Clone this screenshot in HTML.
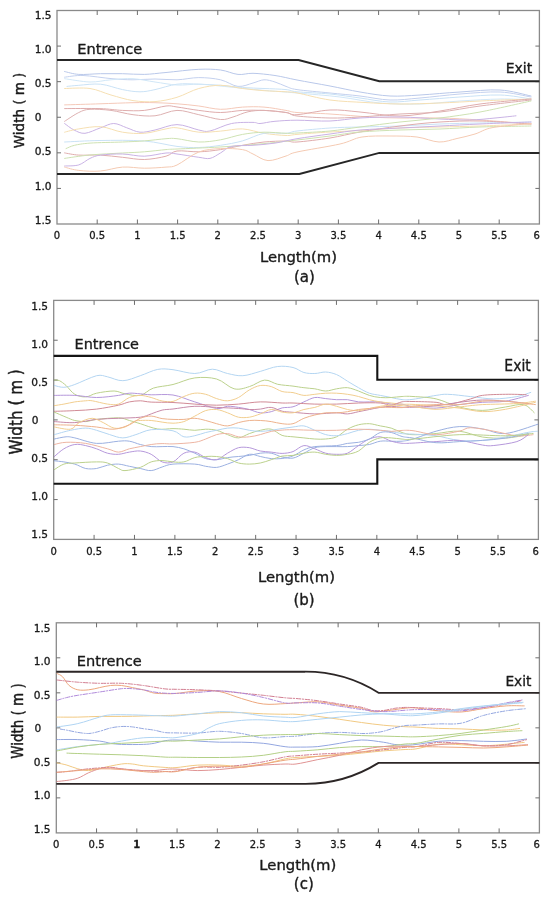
<!DOCTYPE html><html><head><meta charset="utf-8"><title>Figure</title><style>html,body{margin:0;padding:0;background:#fff;width:550px;height:903px;overflow:hidden}svg{display:block}text{stroke:#1a1a1a;stroke-linejoin:round}.tk{font-size:10px;stroke-width:.3px}.tky{font-size:10.6px}.lm{font-size:14px;stroke-width:.35px}.sb{font-size:15px;stroke-width:.35px}.wl{stroke-width:.45px}.en{font-size:14.3px;stroke-width:.35px}</style></head><body><svg width="550" height="903" viewBox="0 0 550 903" font-family='"DejaVu Sans", "Liberation Sans", sans-serif' fill="#1a1a1a"><g><rect x="57.0" y="10.5" width="482.40" height="213.50" fill="none" stroke="#8a8a8a" stroke-width="1.3"/><path d="M97.20 10.5v4.5M97.20 224.0v-4.5M137.40 10.5v4.5M137.40 224.0v-4.5M177.60 10.5v4.5M177.60 224.0v-4.5M217.80 10.5v4.5M217.80 224.0v-4.5M258.00 10.5v4.5M258.00 224.0v-4.5M298.20 10.5v4.5M298.20 224.0v-4.5M338.40 10.5v4.5M338.40 224.0v-4.5M378.60 10.5v4.5M378.60 224.0v-4.5M418.80 10.5v4.5M418.80 224.0v-4.5M459.00 10.5v4.5M459.00 224.0v-4.5M499.20 10.5v4.5M499.20 224.0v-4.5M57.0 46.08h4M539.4 46.08h-4M57.0 81.67h4M539.4 81.67h-4M57.0 117.25h4M539.4 117.25h-4M57.0 152.83h4M539.4 152.83h-4M57.0 188.42h4M539.4 188.42h-4" stroke="#6e6e6e" stroke-width="1" fill="none"/><text x="51.6" y="18.70" class="tk tky" text-anchor="end">1.5</text><text x="51.6" y="52.87" class="tk tky" text-anchor="end">1.0</text><text x="51.6" y="87.04" class="tk tky" text-anchor="end">0.5</text><text x="34.8" y="121.21" class="tk tky">0</text><text x="51.6" y="155.38" class="tk tky" text-anchor="end">0.5</text><text x="51.6" y="189.55" class="tk tky" text-anchor="end">1.0</text><text x="51.6" y="223.72" class="tk tky" text-anchor="end">1.5</text><text x="57.00" y="238.60" class="tk" text-anchor="middle">0</text><text x="97.20" y="238.60" class="tk" text-anchor="middle">0.5</text><text x="137.40" y="238.60" class="tk" text-anchor="middle">1</text><text x="177.60" y="238.60" class="tk" text-anchor="middle">1.5</text><text x="217.80" y="238.60" class="tk" text-anchor="middle">2</text><text x="258.00" y="238.60" class="tk" text-anchor="middle">2.5</text><text x="298.20" y="238.60" class="tk" text-anchor="middle">3</text><text x="338.40" y="238.60" class="tk" text-anchor="middle">3.5</text><text x="378.60" y="238.60" class="tk" text-anchor="middle">4</text><text x="418.80" y="238.60" class="tk" text-anchor="middle">4.5</text><text x="459.00" y="238.60" class="tk" text-anchor="middle">5</text><text x="499.20" y="238.60" class="tk" text-anchor="middle">5.5</text><text x="539.80" y="238.60" class="tk" text-anchor="end">6</text><text x="260.0" y="261.9" class="lm" textLength="77" lengthAdjust="spacingAndGlyphs">Length(m)</text><text x="294.0" y="282.3" class="sb">(a)</text><text transform="translate(24.0 110.4) rotate(-90)" class="wl" font-size="14.6" text-anchor="middle" textLength="75.5" lengthAdjust="spacingAndGlyphs">Width ( m )</text><text x="77.3" y="53.6" class="en" textLength="65" lengthAdjust="spacingAndGlyphs">Entrence</text><text x="505.7" y="72.7" class="en" style="font-size:14.3px" textLength="26.5" lengthAdjust="spacingAndGlyphs">Exit</text><g fill="none" stroke-width="1" stroke-linecap="round" opacity=".62"><path d="M64.6 71.5C67.0 72.0 72.8 74.0 78.8 74.4C84.8 74.8 93.3 73.8 100.6 73.7C107.9 73.6 115.2 73.6 122.5 73.7C129.8 73.8 137.1 74.6 144.3 74.4C151.6 74.2 156.9 73.3 166.0 72.5C175.1 71.7 189.7 69.7 198.8 69.3C207.9 68.9 214.1 69.2 220.6 70.0C227.1 70.8 232.6 73.9 238.0 74.4C243.4 75.0 246.8 73.1 253.0 73.3C259.2 73.5 267.7 74.4 275.0 75.5C282.3 76.6 287.8 78.2 297.0 80.0C306.2 81.8 319.5 84.0 330.0 86.0C340.5 88.0 350.0 90.3 360.0 92.0C370.0 93.7 380.0 95.5 390.0 96.0C400.0 96.5 408.3 95.7 420.0 95.0C431.7 94.3 446.7 92.8 460.0 92.0C473.3 91.2 488.2 89.3 500.0 90.0C511.8 90.7 525.8 95.0 531.0 96.0" stroke="#8ea6dc"/><path d="M64.6 77.2C67.7 76.9 75.1 75.2 83.0 75.5C90.9 75.8 103.7 78.0 112.0 78.7C120.3 79.4 125.8 79.8 133.0 79.8C140.2 79.8 147.7 79.0 155.0 79.0C162.3 79.0 169.7 80.0 177.0 79.8C184.3 79.6 191.5 77.6 198.8 77.6C206.1 77.6 214.1 78.3 220.6 79.8C227.1 81.3 232.6 85.9 238.0 86.4C243.4 86.9 248.7 84.1 253.0 83.0C257.3 81.9 260.3 80.0 264.0 79.8C267.7 79.6 271.3 80.9 275.0 82.0C278.7 83.1 282.3 85.1 286.0 86.4C289.7 87.7 289.7 88.5 297.0 89.6C304.3 90.7 319.5 91.9 330.0 93.0C340.5 94.1 350.0 94.8 360.0 96.0C370.0 97.2 380.0 99.7 390.0 100.0C400.0 100.3 408.3 99.0 420.0 98.0C431.7 97.0 446.7 95.0 460.0 94.0C473.3 93.0 488.2 91.5 500.0 92.0C511.8 92.5 525.8 96.2 531.0 97.0" stroke="#9fb4e4"/><path d="M67.0 86.4C69.0 86.2 73.2 85.7 78.8 85.3C84.4 84.9 93.3 83.5 100.6 84.2C107.9 84.9 115.9 88.3 122.5 89.6C129.1 90.9 134.6 91.8 140.0 91.8C145.4 91.8 148.8 90.9 155.0 89.6C161.2 88.3 169.7 85.1 177.0 84.2C184.3 83.3 191.5 84.0 198.8 84.2C206.1 84.4 213.3 84.8 220.6 85.3C227.9 85.8 235.3 87.0 242.5 87.5C249.7 88.0 256.8 88.2 264.0 88.5C271.2 88.8 280.5 89.0 286.0 89.6C291.5 90.1 289.7 91.1 297.0 91.8C304.3 92.5 319.5 93.0 330.0 94.0C340.5 95.0 350.0 96.7 360.0 98.0C370.0 99.3 380.0 101.7 390.0 102.0C400.0 102.3 408.3 100.8 420.0 100.0C431.7 99.2 446.7 97.8 460.0 97.0C473.3 96.2 488.2 94.7 500.0 95.0C511.8 95.3 525.8 98.3 531.0 99.0" stroke="#a9d0f0"/><path d="M64.6 78.7C68.8 79.2 82.3 81.8 90.0 82.0C97.7 82.2 103.8 80.3 111.0 79.8C118.2 79.2 125.7 78.3 133.0 78.7C140.3 79.1 147.7 81.0 155.0 82.0C162.3 83.0 169.7 84.6 177.0 85.0C184.3 85.4 191.6 84.0 198.8 84.2C206.0 84.4 209.8 85.0 220.0 86.0C230.2 87.0 247.2 88.8 260.0 90.0C272.8 91.2 283.7 91.8 297.0 93.0C310.3 94.2 326.2 95.3 340.0 97.0C353.8 98.7 366.7 101.8 380.0 103.0C393.3 104.2 406.7 104.3 420.0 104.0C433.3 103.7 446.7 101.8 460.0 101.0C473.3 100.2 488.2 99.2 500.0 99.0C511.8 98.8 525.8 99.8 531.0 100.0" stroke="#b5d8f2"/><path d="M64.6 88.5C68.8 88.5 82.3 87.4 90.0 88.5C97.7 89.6 103.8 93.0 111.0 95.0C118.2 97.0 125.7 99.5 133.0 100.6C140.3 101.7 147.7 102.1 155.0 101.6C162.3 101.0 169.7 99.5 177.0 97.3C184.3 95.1 191.5 90.5 198.8 88.5C206.1 86.5 213.3 85.3 220.6 85.3C227.9 85.3 235.3 87.6 242.5 88.5C249.7 89.4 256.8 90.2 264.0 90.7C271.2 91.2 280.5 91.4 286.0 91.8C291.5 92.2 289.7 91.5 297.0 92.9C304.3 94.3 318.7 98.4 330.0 100.0C341.3 101.6 353.3 101.8 365.0 102.5C376.7 103.2 387.5 103.9 400.0 104.0C412.5 104.1 426.7 103.5 440.0 103.0C453.3 102.5 464.8 101.7 480.0 101.0C495.2 100.3 522.5 99.3 531.0 99.0" stroke="#f0cc84"/><path d="M64.6 104.9C70.5 104.7 88.6 104.2 100.0 103.8C111.4 103.4 123.8 102.9 133.0 102.7C142.2 102.5 147.7 102.5 155.0 102.7C162.3 102.9 169.7 103.2 177.0 103.8C184.3 104.3 191.5 105.1 198.8 106.0C206.1 106.9 213.3 109.1 220.6 109.3C227.9 109.5 235.3 107.5 242.5 107.1C249.7 106.7 256.8 106.5 264.0 107.1C271.2 107.6 280.5 109.5 286.0 110.4C291.5 111.3 289.7 111.9 297.0 112.5C304.3 113.1 317.8 113.2 330.0 114.0C342.2 114.8 358.3 116.3 370.0 117.0C381.7 117.7 388.3 117.8 400.0 118.0C411.7 118.2 426.7 117.7 440.0 118.0C453.3 118.3 464.8 119.0 480.0 120.0C495.2 121.0 522.5 123.3 531.0 124.0" stroke="#eea88e"/><path d="M64.6 108.6C70.5 108.6 90.3 108.3 100.0 108.6C109.7 108.9 115.1 110.1 122.5 110.4C129.9 110.7 137.1 111.1 144.3 110.4C151.6 109.7 160.6 106.6 166.0 106.0C171.4 105.4 171.5 106.3 177.0 107.0C182.5 107.7 191.5 109.5 198.8 110.4C206.1 111.3 213.3 112.5 220.6 112.5C227.9 112.5 235.3 110.8 242.5 110.4C249.7 110.1 256.8 110.1 264.0 110.4C271.2 110.8 280.5 111.8 286.0 112.5C291.5 113.2 289.7 115.1 297.0 114.7C304.3 114.3 319.5 110.5 330.0 110.0C340.5 109.5 348.3 111.0 360.0 112.0C371.7 113.0 386.7 116.2 400.0 116.0C413.3 115.8 426.7 113.0 440.0 111.0C453.3 109.0 464.8 106.0 480.0 104.0C495.2 102.0 522.5 99.8 531.0 99.0" stroke="#cc7a7a"/><path d="M64.6 121.3C67.0 119.8 74.6 114.5 78.8 112.5C83.0 110.5 84.6 109.6 90.0 109.3C95.4 109.0 103.8 109.5 111.0 110.4C118.2 111.3 125.7 113.8 133.0 114.7C140.3 115.6 147.7 116.5 155.0 115.8C162.3 115.1 169.7 110.6 177.0 110.4C184.3 110.2 191.5 113.2 198.8 114.7C206.1 116.2 214.9 119.1 220.6 119.5C226.3 119.9 228.4 118.3 233.0 117.0C237.6 115.7 242.8 112.9 248.0 111.8C253.2 110.7 257.7 110.3 264.0 110.4C270.3 110.5 280.5 111.6 286.0 112.5C291.5 113.4 289.7 115.1 297.0 116.0C304.3 116.9 319.5 117.8 330.0 118.0C340.5 118.2 348.3 117.7 360.0 117.0C371.7 116.3 386.7 114.8 400.0 114.0C413.3 113.2 426.7 113.3 440.0 112.0C453.3 110.7 464.8 108.0 480.0 106.0C495.2 104.0 522.5 101.0 531.0 100.0" stroke="#c88080"/><path d="M64.6 123.5C66.2 124.6 70.6 128.4 74.0 130.0C77.4 131.6 80.6 133.7 85.0 133.3C89.4 132.9 95.8 129.4 100.6 127.8C105.4 126.2 109.3 123.5 113.7 123.5C118.1 123.5 122.4 126.3 126.8 127.8C131.2 129.2 135.3 131.8 140.0 132.2C144.7 132.6 148.8 131.3 155.0 130.0C161.2 128.7 169.7 124.6 177.0 124.6C184.3 124.6 193.3 128.9 198.8 130.0C204.3 131.1 204.5 132.1 210.0 131.0C215.5 129.9 224.4 124.9 231.6 123.5C238.8 122.1 248.3 122.4 253.0 122.4C257.7 122.4 256.3 123.7 260.0 123.5C263.7 123.3 268.8 121.8 275.0 121.3C281.2 120.8 287.8 120.2 297.0 120.2C306.2 120.2 319.5 121.4 330.0 121.0C340.5 120.6 348.3 118.7 360.0 118.0C371.7 117.3 386.7 116.8 400.0 117.0C413.3 117.2 428.3 118.5 440.0 119.0C451.7 119.5 460.8 120.2 470.0 120.0C479.2 119.8 487.3 118.7 495.0 118.0C502.7 117.3 512.5 116.2 516.0 115.8" stroke="#a884d4"/><path d="M64.6 132.2C67.0 131.6 72.8 129.8 78.8 128.9C84.8 128.0 93.3 126.2 100.6 126.7C107.9 127.2 115.2 131.1 122.5 132.2C129.8 133.3 137.1 133.9 144.3 133.3C151.6 132.8 160.6 129.8 166.0 128.9C171.4 128.0 171.5 127.2 177.0 127.8C182.5 128.3 191.5 131.6 198.8 132.2C206.1 132.8 213.3 131.6 220.6 131.1C227.9 130.6 235.3 128.5 242.5 128.9C249.7 129.3 256.8 132.2 264.0 133.3C271.2 134.4 280.5 135.3 286.0 135.5C291.5 135.7 289.7 135.0 297.0 134.4C304.3 133.8 317.8 132.7 330.0 132.0C342.2 131.3 358.3 130.7 370.0 130.0C381.7 129.3 388.3 128.5 400.0 128.0C411.7 127.5 426.7 127.3 440.0 127.0C453.3 126.7 464.8 126.5 480.0 126.0C495.2 125.5 522.5 124.3 531.0 124.0" stroke="#f0cc84"/><path d="M64.6 142.0C70.5 141.8 86.7 140.7 100.0 140.5C113.3 140.3 131.5 140.0 144.3 141.0C157.1 142.0 167.9 145.3 177.0 146.4C186.1 147.5 191.5 147.7 198.8 147.5C206.1 147.3 213.3 146.4 220.6 145.3C227.9 144.2 235.3 142.9 242.5 140.9C249.7 138.9 256.8 134.6 264.0 133.3C271.2 132.0 280.5 133.7 286.0 133.3C291.5 132.9 289.7 131.9 297.0 131.0C304.3 130.1 319.5 128.7 330.0 128.0C340.5 127.3 348.3 127.3 360.0 127.0C371.7 126.7 386.7 126.5 400.0 126.0C413.3 125.5 426.7 124.5 440.0 124.0C453.3 123.5 464.8 123.3 480.0 123.0C495.2 122.7 522.5 122.2 531.0 122.0" stroke="#a9d0f0"/><path d="M66.0 148.6C67.4 148.1 70.5 146.2 74.5 145.3C78.5 144.4 82.0 143.7 90.0 143.1C98.0 142.5 113.5 142.4 122.5 142.0C131.6 141.6 137.1 141.5 144.3 140.9C151.6 140.3 160.6 139.1 166.0 138.7C171.4 138.3 171.5 138.1 177.0 138.7C182.5 139.2 191.5 141.8 198.8 142.0C206.1 142.2 213.3 141.1 220.6 139.8C227.9 138.5 235.3 135.7 242.5 134.4C249.7 133.1 256.8 132.4 264.0 132.2C271.2 132.0 280.5 133.2 286.0 133.3C291.5 133.4 289.7 133.4 297.0 133.0C304.3 132.6 319.5 132.0 330.0 131.0C340.5 130.0 348.3 128.5 360.0 127.0C371.7 125.5 386.7 123.5 400.0 122.0C413.3 120.5 426.7 119.7 440.0 118.0C453.3 116.3 464.8 114.8 480.0 112.0C495.2 109.2 522.5 102.8 531.0 101.0" stroke="#b0d084"/><path d="M64.6 152.9C67.0 153.3 72.8 154.7 78.8 155.1C84.8 155.5 93.3 154.7 100.6 155.1C107.9 155.5 115.2 156.6 122.5 157.3C129.8 158.0 137.1 159.7 144.3 159.5C151.6 159.3 160.6 157.6 166.0 156.2C171.4 154.8 171.5 151.7 177.0 151.0C182.5 150.3 191.5 152.0 198.8 151.8C206.1 151.6 213.3 150.7 220.6 149.6C227.9 148.5 235.3 146.6 242.5 145.3C249.7 144.0 256.8 142.7 264.0 142.0C271.2 141.3 280.5 141.0 286.0 141.0C291.5 141.0 289.7 142.5 297.0 142.0C304.3 141.5 319.5 139.7 330.0 138.0C340.5 136.3 348.3 134.0 360.0 132.0C371.7 130.0 386.7 127.7 400.0 126.0C413.3 124.3 426.7 122.8 440.0 122.0C453.3 121.2 464.8 120.7 480.0 121.0C495.2 121.3 522.5 123.5 531.0 124.0" stroke="#cc7a7a"/><path d="M64.6 158.4C68.8 157.8 80.3 155.9 90.0 155.0C99.7 154.1 113.5 153.5 122.5 153.0C131.6 152.5 137.1 152.4 144.3 151.8C151.6 151.2 160.6 150.1 166.0 149.6C171.4 149.1 168.0 149.4 177.0 149.0C186.0 148.6 206.2 147.8 220.0 147.0C233.8 146.2 247.2 145.2 260.0 144.0C272.8 142.8 285.3 141.3 297.0 140.0C308.7 138.7 319.5 137.3 330.0 136.0C340.5 134.7 348.3 133.0 360.0 132.0C371.7 131.0 386.7 130.5 400.0 130.0C413.3 129.5 426.7 129.5 440.0 129.0C453.3 128.5 464.8 127.5 480.0 127.0C495.2 126.5 522.5 126.2 531.0 126.0" stroke="#b0d084"/><path d="M64.6 166.0C67.0 165.8 74.6 166.2 78.8 164.9C83.0 163.6 86.4 160.0 90.0 158.4C93.6 156.8 95.2 155.8 100.6 155.1C106.0 154.4 115.2 153.8 122.5 154.0C129.8 154.2 137.1 156.4 144.3 156.2C151.6 156.0 160.6 153.4 166.0 153.0C171.4 152.6 171.5 153.3 177.0 154.0C182.5 154.7 193.3 156.6 198.8 157.3C204.3 158.0 206.4 159.1 210.0 158.4C213.6 157.7 217.0 154.9 220.6 152.9C224.2 150.9 226.2 147.7 231.6 146.4C237.0 145.1 245.8 145.9 253.0 145.3C260.2 144.8 267.7 144.2 275.0 143.1C282.3 142.0 287.8 140.2 297.0 138.7C306.2 137.2 319.5 135.4 330.0 134.0C340.5 132.6 348.3 131.0 360.0 130.0C371.7 129.0 386.7 128.7 400.0 128.0C413.3 127.3 426.7 126.7 440.0 126.0C453.3 125.3 464.8 124.7 480.0 124.0C495.2 123.3 522.5 122.3 531.0 122.0" stroke="#a884d4"/><path d="M64.6 167.1C67.0 167.7 72.8 169.8 78.8 170.4C84.8 171.1 93.3 171.6 100.6 171.0C107.9 170.4 115.2 167.6 122.5 167.1C129.8 166.6 137.1 168.2 144.3 168.2C151.6 168.2 160.6 167.6 166.0 167.1C171.4 166.6 171.5 167.5 177.0 165.0C182.5 162.5 191.5 154.7 198.8 152.0C206.1 149.3 213.3 149.0 220.6 148.6C227.9 148.2 237.1 148.7 242.5 149.6C247.9 150.5 248.8 152.2 253.0 154.0C257.2 155.8 262.5 160.3 268.0 160.6C273.5 160.9 281.2 157.4 286.0 156.0C290.8 154.6 288.0 154.0 297.0 152.0C306.0 150.0 329.2 146.5 340.0 144.0C350.8 141.5 353.7 138.3 362.0 137.0C370.3 135.7 380.8 136.0 390.0 136.0C399.2 136.0 408.8 136.0 417.0 137.0C425.2 138.0 432.3 141.8 439.0 142.0C445.7 142.2 451.0 139.8 457.0 138.5C463.0 137.2 469.0 135.8 475.0 134.0C481.0 132.2 483.7 129.2 493.0 127.5C502.3 125.8 524.7 124.2 531.0 123.5" stroke="#eeaa84"/></g><path d="M57.0 59.95H298.6L379.3 81.20H539.4M57.0 174.00H299.4L379.3 152.90H539.4" stroke="#262626" stroke-width="2.0" fill="none" stroke-linejoin="miter"/></g>
<g><rect x="53.7" y="300.4" width="484.70" height="239.00" fill="none" stroke="#8a8a8a" stroke-width="1.3"/><path d="M94.09 300.4v4.5M94.09 539.4v-4.5M134.48 300.4v4.5M134.48 539.4v-4.5M174.88 300.4v4.5M174.88 539.4v-4.5M215.27 300.4v4.5M215.27 539.4v-4.5M255.66 300.4v4.5M255.66 539.4v-4.5M296.05 300.4v4.5M296.05 539.4v-4.5M336.44 300.4v4.5M336.44 539.4v-4.5M376.83 300.4v4.5M376.83 539.4v-4.5M417.23 300.4v4.5M417.23 539.4v-4.5M457.62 300.4v4.5M457.62 539.4v-4.5M498.01 300.4v4.5M498.01 539.4v-4.5M53.7 340.23h4M538.4 340.23h-4M53.7 380.07h4M538.4 380.07h-4M53.7 419.90h4M538.4 419.90h-4M53.7 459.73h4M538.4 459.73h-4M53.7 499.57h4M538.4 499.57h-4" stroke="#6e6e6e" stroke-width="1" fill="none"/><text x="48.1" y="309.50" class="tk tky" text-anchor="end">1.5</text><text x="48.1" y="347.58" class="tk tky" text-anchor="end">1.0</text><text x="48.1" y="385.66" class="tk tky" text-anchor="end">0.5</text><text x="31.7" y="423.74" class="tk tky">0</text><text x="48.1" y="461.82" class="tk tky" text-anchor="end">0.5</text><text x="48.1" y="499.90" class="tk tky" text-anchor="end">1.0</text><text x="48.1" y="537.98" class="tk tky" text-anchor="end">1.5</text><text x="53.70" y="555.00" class="tk" text-anchor="middle">0</text><text x="94.09" y="555.00" class="tk" text-anchor="middle">0.5</text><text x="134.48" y="555.00" class="tk" text-anchor="middle">1</text><text x="174.88" y="555.00" class="tk" text-anchor="middle">1.5</text><text x="215.27" y="555.00" class="tk" text-anchor="middle">2</text><text x="255.66" y="555.00" class="tk" text-anchor="middle">2.5</text><text x="296.05" y="555.00" class="tk" text-anchor="middle">3</text><text x="336.44" y="555.00" class="tk" text-anchor="middle">3.5</text><text x="376.83" y="555.00" class="tk" text-anchor="middle">4</text><text x="417.23" y="555.00" class="tk" text-anchor="middle">4.5</text><text x="457.62" y="555.00" class="tk" text-anchor="middle">5</text><text x="498.01" y="555.00" class="tk" text-anchor="middle">5.5</text><text x="538.80" y="555.00" class="tk" text-anchor="end">6</text><text x="258.0" y="581.5" class="lm" textLength="77" lengthAdjust="spacingAndGlyphs">Length(m)</text><text x="293.4" y="605.0" class="sb">(b)</text><text transform="translate(22.2 411.9) rotate(-90)" class="wl" font-size="16.8" text-anchor="middle" textLength="85.4" lengthAdjust="spacingAndGlyphs">Width ( m )</text><text x="74.5" y="348.5" class="en" textLength="64.5" lengthAdjust="spacingAndGlyphs">Entrence</text><text x="504.3" y="371.0" class="en" style="font-size:15.5px" textLength="26.5" lengthAdjust="spacingAndGlyphs">Exit</text><g fill="none" stroke-width="1" stroke-linecap="round" opacity=".78"><path d="M54.4 385.5C56.0 385.8 60.5 387.5 63.9 387.3C67.3 387.1 69.4 386.4 74.8 384.5C80.3 382.5 91.2 377.0 96.6 375.7C102.1 374.5 103.2 376.0 107.5 376.8C111.9 377.7 117.4 380.9 122.8 380.7C128.3 380.6 134.5 377.6 140.3 375.7C146.1 373.8 152.3 370.4 157.7 369.4C163.2 368.4 166.8 369.0 173.0 369.7C179.2 370.4 188.3 373.6 194.8 373.5C201.4 373.5 206.8 369.2 212.3 369.2C217.7 369.2 222.5 372.5 227.5 373.5C232.6 374.6 237.4 376.1 242.8 375.7C248.3 375.4 254.5 372.9 260.3 371.4C266.1 369.8 272.3 367.1 277.7 366.5C283.2 365.8 288.6 366.5 293.0 367.5C297.4 368.5 300.3 371.5 303.9 372.5C307.5 373.5 311.2 373.6 314.8 373.5C318.5 373.5 322.1 371.8 325.7 372.0C329.4 372.2 333.0 373.1 336.6 374.6C340.3 376.2 343.9 379.0 347.5 381.2C351.2 383.4 354.8 385.7 358.5 387.7C362.1 389.7 365.7 391.9 369.4 393.2C373.0 394.5 376.6 394.6 380.3 395.4C383.9 396.1 387.6 396.8 391.2 397.5C394.8 398.3 398.5 399.3 402.1 399.6C405.7 399.9 407.3 400.0 413.0 399.3C418.7 398.6 430.3 396.2 436.1 395.4C441.9 394.6 441.9 394.1 447.6 394.3C453.4 394.4 463.0 395.8 470.7 396.6C478.4 397.3 486.1 398.9 493.8 398.9C501.5 398.9 510.7 397.6 516.9 396.6C523.1 395.5 528.4 393.1 530.8 392.4" stroke="#9fcaee"/><path d="M54.4 380.1C55.3 380.2 57.6 379.8 59.5 380.7C61.5 381.7 63.5 383.3 66.1 385.5C68.6 387.8 71.5 392.4 74.8 394.3C78.1 396.2 82.1 397.1 85.7 396.9C89.4 396.7 91.9 394.2 96.6 393.2C101.4 392.2 109.4 390.9 114.1 391.0C118.8 391.1 120.6 393.1 125.0 393.8C129.4 394.6 135.6 396.3 140.3 395.4C145.0 394.4 147.9 389.9 153.4 388.1C158.8 386.3 166.1 386.2 173.0 384.5C179.9 382.8 187.5 378.8 194.8 377.9C202.1 377.0 210.1 377.2 216.6 379.0C223.2 380.8 228.6 387.5 234.1 388.8C239.6 390.1 244.3 388.1 249.4 386.6C254.5 385.2 259.9 380.5 264.6 380.1C269.4 379.7 273.0 383.3 277.7 384.3C282.5 385.3 288.6 385.5 293.0 386.1C297.4 386.7 300.3 387.3 303.9 387.7C307.5 388.2 311.2 388.3 314.8 388.8C318.5 389.4 322.1 391.0 325.7 391.0C329.4 391.0 333.0 389.4 336.6 388.8C340.3 388.3 343.9 387.4 347.5 387.7C351.2 388.1 354.8 389.7 358.5 391.0C362.1 392.3 365.7 394.3 369.4 395.4C373.0 396.5 376.6 397.2 380.3 397.5C383.9 397.9 387.6 397.7 391.2 397.5C394.8 397.4 398.5 396.6 402.1 396.5C405.7 396.3 407.3 396.1 413.0 396.5C418.7 396.9 428.4 397.1 436.1 398.9C443.8 400.6 451.5 405.0 459.2 407.0C466.9 408.9 474.6 410.4 482.3 410.4C490.0 410.4 498.4 407.9 505.4 407.0C512.3 406.0 519.0 403.7 523.8 404.6C528.6 405.6 532.5 411.4 534.2 412.7" stroke="#a8c46c"/><path d="M54.4 395.4C57.8 395.4 67.8 395.0 74.8 395.4C81.9 395.7 89.4 397.5 96.6 397.5C103.9 397.5 113.0 396.1 118.5 395.4C123.9 394.6 125.7 393.4 129.4 393.2C133.0 392.9 136.6 393.6 140.3 393.8C143.9 394.1 145.7 394.6 151.2 394.8C156.6 395.0 165.7 393.9 173.0 395.0C180.3 396.2 187.5 399.7 194.8 401.9C202.1 404.1 211.2 407.7 216.6 408.5C222.1 409.2 223.9 406.5 227.5 406.3C231.2 406.1 234.8 406.8 238.5 407.4C242.1 407.9 245.7 408.6 249.4 409.5C253.0 410.5 256.6 412.5 260.3 412.8C263.9 413.2 267.6 412.5 271.2 411.7C274.8 410.9 278.5 408.7 282.1 407.9C285.7 407.1 289.4 407.8 293.0 406.8C296.6 405.8 300.3 403.5 303.9 401.9C307.5 400.4 311.2 398.1 314.8 397.5C318.5 397.0 322.1 398.3 325.7 398.6C329.4 399.0 333.0 399.5 336.6 399.7C340.3 399.9 343.9 399.4 347.5 399.7C351.2 400.1 354.8 401.5 358.5 401.9C362.1 402.3 365.7 401.9 369.4 401.9C373.0 401.9 376.6 401.5 380.3 401.9C383.9 402.3 387.6 403.7 391.2 404.1C394.8 404.5 398.5 403.8 402.1 404.2C405.7 404.7 407.3 406.1 413.0 406.7C418.7 407.4 428.4 408.4 436.1 408.1C443.8 407.8 451.5 405.6 459.2 404.6C466.9 403.7 474.6 402.9 482.3 402.3C490.0 401.8 497.7 402.3 505.4 401.2C513.1 400.0 524.6 396.4 528.4 395.4" stroke="#a07ad0"/><path d="M54.4 405.6C56.0 405.4 60.5 404.7 63.9 404.1C67.3 403.5 71.2 402.5 74.8 401.9C78.5 401.4 82.8 401.0 85.7 400.8C88.6 400.6 88.6 400.3 92.3 400.8C95.9 401.4 103.2 403.5 107.5 404.1C111.9 404.6 114.8 405.2 118.5 404.1C122.1 403.0 125.7 399.0 129.4 397.5C133.0 396.1 136.6 395.4 140.3 395.4C143.9 395.4 147.6 396.6 151.2 397.5C154.8 398.5 158.5 400.4 162.1 401.0C165.7 401.6 169.4 402.1 173.0 401.4C176.6 400.6 180.3 397.8 183.9 396.5C187.5 395.1 191.2 393.5 194.8 393.2C198.5 392.8 202.1 393.4 205.7 394.3C209.4 395.2 213.0 397.5 216.6 398.6C220.3 399.7 223.9 401.0 227.5 400.8C231.2 400.6 234.8 399.4 238.5 397.5C242.1 395.7 245.7 391.9 249.4 389.9C253.0 387.9 256.6 386.1 260.3 385.5C263.9 385.0 267.6 385.6 271.2 386.6C274.8 387.6 278.5 390.5 282.1 391.5C285.7 392.5 289.4 392.0 293.0 392.6C296.6 393.3 300.3 395.1 303.9 395.4C307.5 395.6 311.2 394.6 314.8 394.3C318.5 393.9 322.1 393.4 325.7 393.2C329.4 393.0 333.0 393.0 336.6 393.2C340.3 393.4 343.9 393.7 347.5 394.3C351.2 394.8 354.8 395.5 358.5 396.5C362.1 397.4 365.7 398.8 369.4 399.7C373.0 400.6 376.6 401.4 380.3 401.9C383.9 402.5 387.6 402.6 391.2 403.0C394.8 403.4 398.5 404.0 402.1 404.2C405.7 404.4 407.3 404.1 413.0 404.4C418.7 404.6 428.4 405.2 436.1 405.8C443.8 406.4 451.5 407.1 459.2 408.1C466.9 409.1 474.6 411.4 482.3 411.6C490.0 411.8 496.5 410.8 505.4 409.3C514.2 407.7 530.4 403.5 535.4 402.3" stroke="#eec070"/><path d="M54.4 411.3C57.8 411.2 67.8 411.0 74.8 410.6C81.9 410.3 89.4 410.0 96.6 409.1C103.9 408.2 113.0 406.4 118.5 405.2C123.9 404.0 125.7 402.6 129.4 401.9C133.0 401.2 136.6 400.8 140.3 400.8C143.9 400.9 145.7 401.8 151.2 402.1C156.6 402.4 165.7 402.1 173.0 402.5C180.3 402.8 187.5 403.6 194.8 404.1C202.1 404.5 209.4 405.2 216.6 405.2C223.9 405.2 231.2 404.6 238.5 404.1C245.7 403.5 253.0 402.1 260.3 401.9C267.6 401.7 276.6 402.8 282.1 403.0C287.6 403.2 287.5 402.8 293.0 403.0C298.5 403.2 307.5 403.9 314.8 404.1C322.1 404.3 329.4 404.3 336.6 404.1C343.9 403.9 351.2 403.2 358.5 403.0C365.7 402.8 374.8 402.6 380.3 403.0C385.7 403.4 387.6 405.4 391.2 405.2C394.8 405.0 398.5 402.4 402.1 401.8C405.7 401.2 407.3 401.5 413.0 401.5C418.7 401.6 430.3 401.8 436.1 402.3C441.9 402.8 441.9 405.2 447.6 404.6C453.4 404.1 465.0 400.4 470.7 398.9C476.5 397.3 476.5 396.2 482.3 395.4C488.0 394.6 498.0 394.4 505.4 394.3C512.7 394.1 522.7 394.6 526.1 394.7" stroke="#c46a78"/><path d="M54.4 412.2C56.3 413.0 62.7 415.8 66.1 417.2C69.5 418.6 71.5 419.7 74.8 420.5C78.1 421.2 82.1 421.7 85.7 421.6C89.4 421.4 91.2 420.0 96.6 419.4C102.1 418.8 113.0 417.7 118.5 417.8C123.9 418.0 125.7 419.5 129.4 420.5C133.0 421.4 135.6 422.3 140.3 423.7C145.0 425.2 152.3 428.2 157.7 429.0C163.2 429.8 168.6 428.6 173.0 428.6C177.4 428.7 180.3 428.9 183.9 429.2C187.5 429.5 191.2 430.3 194.8 430.3C198.5 430.3 202.1 429.2 205.7 429.2C209.4 429.2 213.0 429.4 216.6 430.3C220.3 431.2 223.9 433.4 227.5 434.6C231.2 435.9 234.8 438.1 238.5 437.9C242.1 437.7 245.7 434.8 249.4 433.6C253.0 432.3 256.6 431.0 260.3 430.3C263.9 429.6 267.6 428.3 271.2 429.2C274.8 430.0 278.5 434.1 282.1 435.4C285.7 436.6 289.4 436.4 293.0 436.8C296.6 437.2 300.3 437.6 303.9 437.9C307.5 438.3 311.2 438.8 314.8 439.0C318.5 439.2 322.1 439.4 325.7 439.0C329.4 438.6 333.0 438.5 336.6 436.8C340.3 435.2 343.9 431.2 347.5 429.2C351.2 427.2 354.8 425.7 358.5 424.8C362.1 423.9 365.7 423.6 369.4 423.7C373.0 423.9 376.6 425.2 380.3 425.9C383.9 426.6 387.6 427.0 391.2 428.1C394.8 429.2 398.5 431.4 402.1 432.5C405.7 433.6 407.3 434.6 413.0 434.7C418.7 434.9 428.4 434.1 436.1 433.5C443.8 432.9 451.5 430.6 459.2 431.2C466.9 431.8 474.6 435.8 482.3 437.0C490.0 438.1 497.7 438.5 505.4 438.1C513.1 437.7 524.6 435.2 528.4 434.7" stroke="#a8c46c"/><path d="M54.4 421.6C57.8 421.7 67.8 423.0 74.8 422.6C81.9 422.3 89.4 420.1 96.6 419.4C103.9 418.6 111.2 418.6 118.5 418.3C125.7 417.9 134.8 417.9 140.3 417.2C145.7 416.5 147.6 415.1 151.2 413.9C154.8 412.7 158.5 410.9 162.1 410.1C165.7 409.3 167.5 409.6 173.0 409.0C178.5 408.4 187.5 406.5 194.8 406.3C202.1 406.0 209.4 407.0 216.6 407.4C223.9 407.7 233.0 408.1 238.5 408.5C243.9 408.8 245.7 409.4 249.4 409.5C253.0 409.7 256.6 409.5 260.3 409.1C263.9 408.7 267.6 407.0 271.2 407.4C274.8 407.7 278.5 410.4 282.1 411.2C285.7 412.0 287.5 411.8 293.0 412.3C298.5 412.7 307.5 413.8 314.8 413.9C322.1 414.0 331.2 412.8 336.6 412.8C342.1 412.8 343.9 414.1 347.5 413.9C351.2 413.7 354.8 412.5 358.5 411.7C362.1 411.0 365.7 410.3 369.4 409.5C373.0 408.8 376.6 407.9 380.3 407.4C383.9 406.8 387.6 406.3 391.2 406.3C394.8 406.3 398.5 407.2 402.1 407.3C405.7 407.4 407.3 407.4 413.0 407.2C418.7 406.9 428.4 406.6 436.1 405.8C443.8 405.0 451.5 403.3 459.2 402.3C466.9 401.4 474.6 400.2 482.3 400.0C490.0 399.8 497.7 400.6 505.4 401.2C513.1 401.8 524.6 403.1 528.4 403.5" stroke="#b86a90"/><path d="M54.4 427.0C57.1 427.4 66.3 429.9 70.5 429.2C74.6 428.5 75.5 424.5 79.2 422.6C82.8 420.8 88.3 418.3 92.3 418.3C96.3 418.3 99.5 421.0 103.2 422.6C106.8 424.3 110.5 427.4 114.1 428.1C117.7 428.8 121.7 428.1 125.0 427.0C128.3 425.9 131.2 422.6 133.7 421.6C136.3 420.5 137.4 420.6 140.3 420.5C143.2 420.3 147.6 420.2 151.2 420.5C154.8 420.7 158.5 421.6 162.1 422.1C165.7 422.6 169.4 423.3 173.0 423.2C176.6 423.1 180.3 422.7 183.9 421.6C187.5 420.4 191.2 417.9 194.8 416.1C198.5 414.3 202.1 411.7 205.7 410.6C209.4 409.5 213.0 409.2 216.6 409.5C220.3 409.9 223.9 411.5 227.5 412.8C231.2 414.1 234.8 416.5 238.5 417.2C242.1 417.9 245.7 417.7 249.4 417.2C253.0 416.6 256.6 415.2 260.3 413.9C263.9 412.6 267.6 409.9 271.2 409.5C274.8 409.2 278.5 411.5 282.1 412.1C285.7 412.6 289.4 413.2 293.0 412.8C296.6 412.4 300.3 410.5 303.9 409.5C307.5 408.6 311.2 408.3 314.8 407.4C318.5 406.5 322.1 404.3 325.7 404.1C329.4 403.9 333.0 405.4 336.6 406.3C340.3 407.2 343.9 408.8 347.5 409.5C351.2 410.3 354.8 410.8 358.5 410.6C362.1 410.5 365.7 409.2 369.4 408.5C373.0 407.7 376.6 406.8 380.3 406.3C383.9 405.7 387.6 405.3 391.2 405.2C394.8 405.1 398.5 405.4 402.1 405.7C405.7 405.9 407.3 406.0 413.0 406.6C418.7 407.2 428.4 409.2 436.1 409.3C443.8 409.3 451.5 407.7 459.2 407.0C466.9 406.2 472.6 405.2 482.3 404.6C491.9 404.1 508.1 404.1 516.9 403.5C525.8 402.9 532.3 401.6 535.4 401.2" stroke="#eec070"/><path d="M54.4 424.8C57.8 424.9 67.8 424.9 74.8 425.3C81.9 425.6 90.1 426.4 96.6 427.0C103.2 427.7 108.6 429.6 114.1 429.2C119.6 428.8 125.0 426.6 129.4 424.8C133.7 423.0 136.6 419.7 140.3 418.3C143.9 416.8 147.6 416.0 151.2 416.1C154.8 416.2 158.5 418.1 162.1 418.6C165.7 419.2 169.4 419.2 173.0 419.4C176.6 419.5 180.3 419.6 183.9 419.4C187.5 419.2 191.2 418.1 194.8 418.3C198.5 418.5 202.1 419.6 205.7 420.5C209.4 421.4 213.0 422.8 216.6 423.7C220.3 424.6 223.9 426.1 227.5 425.9C231.2 425.7 234.8 423.6 238.5 422.6C242.1 421.7 245.7 420.8 249.4 420.5C253.0 420.1 256.6 420.3 260.3 420.5C263.9 420.6 267.6 421.0 271.2 421.6C274.8 422.1 278.5 423.4 282.1 423.7C285.7 424.1 289.4 424.6 293.0 423.7C296.6 422.8 300.3 419.7 303.9 418.3C307.5 416.8 311.2 415.9 314.8 415.0C318.5 414.1 322.1 413.2 325.7 412.8C329.4 412.5 333.0 413.0 336.6 412.8C340.3 412.6 343.9 412.3 347.5 411.7C351.2 411.2 354.8 410.1 358.5 409.5C362.1 409.0 365.7 408.8 369.4 408.5C373.0 408.1 376.6 407.5 380.3 407.4C383.9 407.2 387.6 407.3 391.2 407.4C394.8 407.4 398.5 407.9 402.1 407.6C405.7 407.4 407.3 406.5 413.0 406.0C418.7 405.5 428.4 404.9 436.1 404.6C443.8 404.4 451.5 405.2 459.2 404.6C466.9 404.1 474.6 401.8 482.3 401.2C490.0 400.6 496.5 400.6 505.4 401.2C514.2 401.8 530.4 404.1 535.4 404.6" stroke="#e89c6c"/><path d="M54.4 434.6C57.1 433.9 65.2 431.4 70.5 430.3C75.7 429.2 81.4 428.1 85.7 428.1C90.1 428.1 92.6 429.2 96.6 430.3C100.6 431.4 105.4 433.4 109.7 434.6C114.1 435.9 118.5 437.9 122.8 437.9C127.2 437.9 131.2 436.0 135.9 434.6C140.6 433.3 145.0 430.4 151.2 429.7C157.4 429.1 167.5 429.6 173.0 430.8C178.5 432.0 180.3 436.0 183.9 436.8C187.5 437.6 191.2 436.5 194.8 435.7C198.5 435.0 202.1 433.4 205.7 432.5C209.4 431.6 213.0 431.0 216.6 430.3C220.3 429.6 223.9 428.5 227.5 428.1C231.2 427.7 234.8 427.7 238.5 428.1C242.1 428.5 245.7 429.7 249.4 430.3C253.0 430.8 256.6 431.4 260.3 431.4C263.9 431.4 267.6 430.8 271.2 430.3C274.8 429.8 278.5 429.0 282.1 428.5C285.7 427.9 289.4 427.4 293.0 427.0C296.6 426.6 300.3 425.4 303.9 425.9C307.5 426.5 311.2 428.8 314.8 430.3C318.5 431.7 322.1 433.7 325.7 434.6C329.4 435.6 333.0 435.9 336.6 435.7C340.3 435.6 343.9 434.5 347.5 433.6C351.2 432.6 354.8 431.0 358.5 430.3C362.1 429.6 365.7 429.2 369.4 429.2C373.0 429.2 376.6 429.9 380.3 430.3C383.9 430.6 387.6 430.8 391.2 431.4C394.8 431.9 398.5 433.3 402.1 433.7C405.7 434.2 407.3 433.8 413.0 434.1C418.7 434.5 428.4 434.8 436.1 435.8C443.8 436.9 451.5 439.7 459.2 440.4C466.9 441.2 474.6 441.0 482.3 440.4C490.0 439.9 497.7 438.3 505.4 437.0C513.1 435.6 523.1 433.3 528.4 432.3C533.8 431.4 536.1 431.4 537.7 431.2" stroke="#9fcaee"/><path d="M54.4 439.0C56.3 438.6 62.7 437.0 66.1 436.8C69.5 436.6 69.7 436.8 74.8 437.9C79.9 439.0 89.4 442.8 96.6 443.4C103.9 443.9 113.0 441.6 118.5 441.2C123.9 440.8 125.7 440.6 129.4 441.2C133.0 441.7 136.6 443.6 140.3 444.5C143.9 445.4 147.6 446.3 151.2 446.6C154.8 447.0 158.5 446.6 162.1 446.6C165.7 446.6 169.4 446.3 173.0 446.6C176.6 447.0 180.3 447.7 183.9 448.8C187.5 449.9 191.2 451.6 194.8 453.2C198.5 454.8 202.1 457.6 205.7 458.6C209.4 459.7 213.0 459.9 216.6 459.7C220.3 459.6 223.9 458.1 227.5 457.6C231.2 457.0 234.8 456.8 238.5 456.5C242.1 456.1 245.7 455.9 249.4 455.4C253.0 454.8 256.6 453.6 260.3 453.2C263.9 452.8 267.6 452.6 271.2 453.2C274.8 453.8 278.5 456.2 282.1 457.0C285.7 457.8 289.4 458.7 293.0 458.1C296.6 457.5 300.3 454.9 303.9 453.2C307.5 451.5 311.2 448.8 314.8 447.7C318.5 446.6 322.1 446.8 325.7 446.6C329.4 446.5 333.0 446.6 336.6 446.6C340.3 446.6 343.9 446.8 347.5 446.6C351.2 446.5 354.8 445.9 358.5 445.6C362.1 445.2 365.7 445.2 369.4 444.5C373.0 443.7 376.6 441.7 380.3 441.2C383.9 440.6 387.6 441.2 391.2 441.2C394.8 441.2 398.5 441.6 402.1 441.2C405.7 440.8 407.3 440.7 413.0 439.0C418.7 437.4 428.4 433.3 436.1 431.2C443.8 429.1 451.5 427.0 459.2 426.6C466.9 426.2 474.6 427.7 482.3 428.9C490.0 430.0 496.1 434.3 505.4 433.5C514.6 432.7 532.3 425.8 537.7 424.3" stroke="#7f9ad8"/><path d="M54.4 444.5C56.3 444.1 60.9 442.5 66.1 442.3C71.3 442.1 78.8 442.3 85.7 443.4C92.6 444.5 102.1 447.4 107.5 448.8C113.0 450.3 114.8 452.1 118.5 452.1C122.1 452.1 125.7 449.7 129.4 448.8C133.0 447.9 136.6 447.4 140.3 446.6C143.9 445.9 147.6 445.0 151.2 444.5C154.8 443.9 158.5 443.6 162.1 443.6C165.7 443.5 167.5 444.1 173.0 443.9C178.5 443.7 189.4 443.1 194.8 442.3C200.3 441.5 202.1 440.3 205.7 439.0C209.4 437.7 213.0 435.6 216.6 434.6C220.3 433.7 223.9 433.2 227.5 433.6C231.2 433.9 234.8 436.3 238.5 436.8C242.1 437.4 245.7 437.2 249.4 436.8C253.0 436.5 256.6 435.6 260.3 434.6C263.9 433.7 267.6 432.1 271.2 431.4C274.8 430.6 278.5 430.4 282.1 430.1C285.7 429.8 287.5 429.7 293.0 429.7C298.5 429.8 307.5 430.2 314.8 430.3C322.1 430.4 329.4 430.5 336.6 430.3C343.9 430.1 351.2 429.2 358.5 429.2C365.7 429.2 374.8 429.9 380.3 430.3C385.7 430.6 387.6 431.3 391.2 431.4C394.8 431.4 398.5 430.5 402.1 430.4C405.7 430.3 407.3 430.0 413.0 430.7C418.7 431.4 428.4 434.6 436.1 434.7C443.8 434.7 453.4 432.3 459.2 431.2C465.0 430.0 465.0 427.7 470.7 427.7C476.5 427.7 486.1 429.8 493.8 431.2C501.5 432.5 510.4 435.2 516.9 435.8C523.4 436.4 530.4 434.9 533.1 434.7" stroke="#e8a088"/><path d="M54.4 456.5C56.0 455.2 60.5 450.8 63.9 448.8C67.3 446.8 71.2 445.0 74.8 444.5C78.5 443.9 82.1 444.8 85.7 445.6C89.4 446.3 93.0 447.6 96.6 448.8C100.3 450.1 103.9 452.3 107.5 453.2C111.2 454.1 114.8 454.5 118.5 454.3C122.1 454.1 125.7 452.6 129.4 452.1C133.0 451.6 136.6 450.6 140.3 451.0C143.9 451.4 147.6 452.5 151.2 454.3C154.8 456.1 158.5 460.6 162.1 461.9C165.7 463.2 169.4 463.4 173.0 461.9C176.6 460.5 180.3 454.8 183.9 453.2C187.5 451.6 191.2 451.4 194.8 452.1C198.5 452.8 202.1 456.3 205.7 457.6C209.4 458.8 213.0 460.5 216.6 459.7C220.3 459.0 223.9 455.2 227.5 453.2C231.2 451.2 234.8 448.6 238.5 447.7C242.1 446.8 245.7 447.2 249.4 447.7C253.0 448.3 256.6 450.3 260.3 451.0C263.9 451.7 267.6 451.7 271.2 452.1C274.8 452.5 278.5 453.5 282.1 453.4C285.7 453.3 289.4 452.9 293.0 451.6C296.6 450.2 300.3 446.0 303.9 445.6C307.5 445.1 311.2 447.6 314.8 448.8C318.5 450.1 322.1 452.3 325.7 453.2C329.4 454.1 333.0 454.3 336.6 454.3C340.3 454.3 343.9 454.6 347.5 453.2C351.2 451.7 354.8 447.9 358.5 445.6C362.1 443.2 365.7 440.5 369.4 439.0C373.0 437.6 376.6 436.5 380.3 436.8C383.9 437.2 387.6 440.1 391.2 441.2C394.8 442.3 398.5 443.0 402.1 443.3C405.7 443.6 407.3 443.3 413.0 443.1C418.7 442.8 428.4 442.0 436.1 441.6C443.8 441.1 451.5 439.9 459.2 440.4C466.9 441.0 476.5 444.2 482.3 445.0C488.0 445.9 488.0 446.1 493.8 445.5C499.6 444.9 511.1 443.4 516.9 441.6C522.7 439.8 526.5 435.8 528.4 434.7" stroke="#a07ad0"/><path d="M54.4 460.8C56.0 461.0 60.5 461.4 63.9 461.9C67.3 462.5 71.2 463.0 74.8 464.1C78.5 465.2 82.1 467.7 85.7 468.5C89.4 469.2 93.0 469.0 96.6 468.5C100.3 467.9 103.9 465.9 107.5 465.2C111.2 464.5 114.8 463.9 118.5 464.1C122.1 464.3 125.7 465.6 129.4 466.3C133.0 467.0 136.6 467.7 140.3 468.5C143.9 469.2 147.6 470.9 151.2 470.6C154.8 470.4 158.5 468.1 162.1 467.0C165.7 465.9 167.5 464.6 173.0 464.1C178.5 463.6 189.4 463.7 194.8 464.1C200.3 464.5 202.1 465.7 205.7 466.3C209.4 466.8 213.0 467.7 216.6 467.4C220.3 467.0 223.9 465.4 227.5 464.1C231.2 462.8 234.8 461.4 238.5 459.7C242.1 458.1 245.7 454.8 249.4 454.3C253.0 453.7 256.6 455.7 260.3 456.5C263.9 457.2 267.6 458.3 271.2 458.6C274.8 459.0 278.5 458.9 282.1 458.5C285.7 458.0 289.4 457.3 293.0 455.9C296.6 454.5 300.3 451.5 303.9 449.9C307.5 448.4 309.4 447.4 314.8 446.6C320.3 445.9 331.2 446.1 336.6 445.6C342.1 445.0 343.9 443.9 347.5 443.4C351.2 442.8 354.8 443.0 358.5 442.3C362.1 441.6 365.7 440.6 369.4 439.0C373.0 437.4 376.6 433.6 380.3 432.5C383.9 431.4 387.6 431.8 391.2 432.5C394.8 433.1 398.5 435.6 402.1 436.5C405.7 437.5 407.3 437.0 413.0 438.1C418.7 439.1 428.4 442.2 436.1 442.7C443.8 443.3 451.5 442.0 459.2 441.6C466.9 441.2 474.6 441.0 482.3 440.4C490.0 439.9 497.7 439.3 505.4 438.1C513.1 437.0 524.6 434.3 528.4 433.5" stroke="#7f9ad8"/><path d="M54.4 469.6C56.0 468.6 60.5 465.2 63.9 464.1C67.3 463.0 69.4 463.4 74.8 463.0C80.3 462.6 91.2 461.9 96.6 461.9C102.1 461.9 103.9 461.9 107.5 463.0C111.2 464.1 115.6 467.2 118.5 468.5C121.4 469.7 121.4 470.8 125.0 470.6C128.6 470.5 135.9 468.8 140.3 467.4C144.6 465.9 147.6 463.1 151.2 461.9C154.8 460.8 158.5 460.5 162.1 460.5C165.7 460.5 169.4 461.7 173.0 461.9C176.6 462.2 180.3 462.6 183.9 461.9C187.5 461.2 191.2 458.5 194.8 457.6C198.5 456.6 202.1 456.6 205.7 456.5C209.4 456.3 213.0 456.1 216.6 456.5C220.3 456.8 223.9 457.6 227.5 458.6C231.2 459.7 234.8 462.1 238.5 463.0C242.1 463.9 245.7 464.1 249.4 464.1C253.0 464.1 256.6 463.7 260.3 463.0C263.9 462.3 267.6 460.9 271.2 459.7C274.8 458.6 278.5 456.8 282.1 456.1C285.7 455.4 289.4 455.9 293.0 455.4C296.6 454.9 300.3 453.7 303.9 453.2C307.5 452.6 311.2 451.9 314.8 452.1C318.5 452.3 322.1 453.7 325.7 454.3C329.4 454.8 333.0 455.4 336.6 455.4C340.3 455.4 343.9 455.0 347.5 454.3C351.2 453.6 354.8 453.0 358.5 451.0C362.1 449.0 365.7 444.5 369.4 442.3C373.0 440.1 376.6 438.6 380.3 437.9C383.9 437.2 387.6 437.7 391.2 437.9C394.8 438.1 398.5 438.8 402.1 439.1C405.7 439.3 403.5 439.9 413.0 439.1C422.5 438.4 443.8 435.2 459.2 434.7C474.6 434.1 493.0 436.0 505.4 435.8C517.7 435.6 528.4 433.9 533.1 433.5" stroke="#a8c46c"/></g><path d="M53.7 355.90H377.3V379.80H538.4M53.7 483.70H377.3V459.40H538.4" stroke="#141414" stroke-width="2.1" fill="none" stroke-linejoin="miter"/></g>
<g><rect x="56.3" y="622.8" width="483.10" height="210.10" fill="none" stroke="#8a8a8a" stroke-width="1.3"/><path d="M96.56 622.8v4.5M96.56 832.9v-4.5M136.82 622.8v4.5M136.82 832.9v-4.5M177.07 622.8v4.5M177.07 832.9v-4.5M217.33 622.8v4.5M217.33 832.9v-4.5M257.59 622.8v4.5M257.59 832.9v-4.5M297.85 622.8v4.5M297.85 832.9v-4.5M338.11 622.8v4.5M338.11 832.9v-4.5M378.37 622.8v4.5M378.37 832.9v-4.5M418.62 622.8v4.5M418.62 832.9v-4.5M458.88 622.8v4.5M458.88 832.9v-4.5M499.14 622.8v4.5M499.14 832.9v-4.5M56.3 657.82h4M539.4 657.82h-4M56.3 692.83h4M539.4 692.83h-4M56.3 727.85h4M539.4 727.85h-4M56.3 762.87h4M539.4 762.87h-4M56.3 797.88h4M539.4 797.88h-4" stroke="#6e6e6e" stroke-width="1" fill="none"/><text x="50.6" y="631.60" class="tk tky" text-anchor="end">1.5</text><text x="50.6" y="665.10" class="tk tky" text-anchor="end">1.0</text><text x="50.6" y="698.60" class="tk tky" text-anchor="end">0.5</text><text x="34.4" y="732.10" class="tk tky">0</text><text x="50.6" y="765.60" class="tk tky" text-anchor="end">0.5</text><text x="50.6" y="799.10" class="tk tky" text-anchor="end">1.0</text><text x="50.6" y="832.60" class="tk tky" text-anchor="end">1.5</text><text x="56.30" y="847.50" class="tk" text-anchor="middle">0</text><text x="96.56" y="847.50" class="tk" text-anchor="middle">0.5</text><text x="136.82" y="847.50" class="tk" text-anchor="middle" font-weight="bold">1</text><text x="177.07" y="847.50" class="tk" text-anchor="middle">1.5</text><text x="217.33" y="847.50" class="tk" text-anchor="middle">2</text><text x="257.59" y="847.50" class="tk" text-anchor="middle">2.5</text><text x="297.85" y="847.50" class="tk" text-anchor="middle">3</text><text x="338.11" y="847.50" class="tk" text-anchor="middle">3.5</text><text x="378.37" y="847.50" class="tk" text-anchor="middle">4</text><text x="418.62" y="847.50" class="tk" text-anchor="middle">4.5</text><text x="458.88" y="847.50" class="tk" text-anchor="middle">5</text><text x="499.14" y="847.50" class="tk" text-anchor="middle">5.5</text><text x="539.80" y="847.50" class="tk" text-anchor="end">6</text><text x="259.3" y="869.5" class="lm" textLength="77" lengthAdjust="spacingAndGlyphs">Length(m)</text><text x="293.8" y="889.0" class="sb">(c)</text><text transform="translate(23.3 721.0) rotate(-90)" class="wl" font-size="15.0" text-anchor="middle" textLength="75.3" lengthAdjust="spacingAndGlyphs">Width ( m )</text><text x="76.8" y="665.9" class="en" textLength="65" lengthAdjust="spacingAndGlyphs">Entrence</text><text x="505.4" y="686.0" class="en" style="font-size:14.3px" textLength="26" lengthAdjust="spacingAndGlyphs">Exit</text><g fill="none" stroke-width="1" stroke-linecap="round" opacity=".8"><path d="M57.0 673.5C57.9 674.0 60.5 674.7 62.5 676.7C64.6 678.7 66.5 683.3 69.1 685.5C71.6 687.6 74.5 689.1 77.8 689.8C81.1 690.5 85.1 690.2 88.7 689.8C92.4 689.5 96.0 688.4 99.6 687.6C103.3 686.9 106.9 685.8 110.5 685.5C114.2 685.1 117.8 685.1 121.5 685.5C125.1 685.8 128.7 686.9 132.4 687.6C136.0 688.4 139.6 688.9 143.3 689.8C146.9 690.7 150.6 692.5 154.2 693.1C157.8 693.7 161.5 693.6 165.1 693.6C168.7 693.7 170.5 693.9 176.0 693.4C181.5 693.0 190.5 691.2 197.8 690.9C205.1 690.6 212.4 690.3 219.6 691.6C226.9 692.8 234.2 696.5 241.5 698.5C248.7 700.6 256.0 703.2 263.3 704.0C270.6 704.9 279.6 703.8 285.1 703.6C290.6 703.5 290.5 703.2 296.0 702.9C301.5 702.6 310.5 701.5 317.8 701.8C325.1 702.2 332.4 704.0 339.6 705.1C346.9 706.2 356.0 707.3 361.5 708.4C366.9 709.5 368.7 711.2 372.4 711.6C376.0 712.1 377.8 711.8 383.3 711.2C388.7 710.6 399.6 708.8 405.1 708.2C410.6 707.7 410.4 707.5 416.0 707.9C421.6 708.4 431.0 710.2 438.5 710.8C446.1 711.5 453.6 712.3 461.1 712.0C468.6 711.6 476.1 709.6 483.6 708.6C491.2 707.6 499.4 706.3 506.2 705.9C513.0 705.4 521.2 705.9 524.2 705.9" stroke="#e8905c"/><path d="M57.0 680.0C60.5 680.4 70.7 681.6 77.8 682.2C84.9 682.7 92.4 683.1 99.6 683.3C106.9 683.5 114.2 682.9 121.5 683.3C128.7 683.6 136.0 684.5 143.3 685.5C150.6 686.4 159.6 688.3 165.1 688.9C170.6 689.5 170.5 689.1 176.0 689.3C181.5 689.4 190.5 689.5 197.8 689.8C205.1 690.1 212.4 690.4 219.6 690.9C226.9 691.5 234.2 692.4 241.5 693.1C248.7 693.8 256.0 694.5 263.3 695.3C270.6 696.1 279.6 697.3 285.1 697.8C290.6 698.4 290.5 698.1 296.0 698.5C301.5 699.0 310.5 699.8 317.8 700.7C325.1 701.6 332.4 702.9 339.6 704.0C346.9 705.1 356.0 706.2 361.5 707.3C366.9 708.4 368.7 710.0 372.4 710.5C376.0 711.1 379.6 710.9 383.3 710.5C386.9 710.2 390.6 708.9 394.2 708.4C397.8 707.8 401.5 707.5 405.1 707.4C408.7 707.3 410.4 707.5 416.0 707.7C421.6 707.9 431.0 708.3 438.5 708.6C446.1 708.9 453.6 709.9 461.1 709.7C468.6 709.5 476.1 708.4 483.6 707.5C491.2 706.5 500.0 705.2 506.2 704.1C512.4 702.9 518.4 701.3 520.8 700.7" stroke="#c65c74" stroke-dasharray="4.5 1.6 1.2 1.6"/><path d="M57.0 700.3C58.7 699.8 63.4 698.3 66.9 697.5C70.4 696.6 72.4 696.2 77.8 695.3C83.3 694.4 92.4 693.1 99.6 692.0C106.9 690.9 116.0 689.3 121.5 688.7C126.9 688.2 128.7 688.5 132.4 688.7C136.0 688.9 139.6 689.3 143.3 689.8C146.9 690.4 150.6 691.4 154.2 692.0C157.8 692.6 161.5 693.0 165.1 693.2C168.7 693.4 170.5 693.5 176.0 693.4C181.5 693.3 190.5 692.9 197.8 692.4C205.1 692.0 212.4 690.8 219.6 690.9C226.9 691.0 234.2 692.0 241.5 693.1C248.7 694.2 256.0 695.8 263.3 697.5C270.6 699.1 279.6 702.0 285.1 702.9C290.6 703.8 290.5 702.9 296.0 702.9C301.5 702.9 310.5 702.4 317.8 702.9C325.1 703.5 332.4 705.1 339.6 706.2C346.9 707.3 354.2 708.5 361.5 709.5C368.7 710.4 376.0 711.5 383.3 711.6C390.6 711.8 399.6 710.6 405.1 710.2C410.6 709.9 410.4 709.7 416.0 709.6C421.6 709.5 431.0 709.5 438.5 709.7C446.1 709.9 453.6 711.2 461.1 710.8C468.6 710.5 476.1 708.8 483.6 707.5C491.2 706.1 499.8 704.2 506.2 702.9C512.6 701.7 519.3 700.5 522.0 700.0" stroke="#9a6ad0" stroke-dasharray="4.5 1.6 1.2 1.6"/><path d="M57.0 717.1C60.5 717.1 70.7 717.2 77.8 717.1C84.9 717.0 92.4 716.5 99.6 716.4C106.9 716.3 114.2 716.5 121.5 716.4C128.7 716.4 136.0 716.2 143.3 716.0C150.6 715.8 159.6 715.6 165.1 715.5C170.6 715.3 170.5 715.5 176.0 715.2C181.5 715.0 190.5 714.2 197.8 713.8C205.1 713.4 212.4 712.9 219.6 712.7C226.9 712.5 234.2 712.5 241.5 712.7C248.7 712.9 256.0 713.6 263.3 713.8C270.6 714.1 279.6 714.2 285.1 714.3C290.6 714.3 290.5 713.9 296.0 714.3C301.5 714.6 310.5 715.6 317.8 716.4C325.1 717.3 332.4 718.3 339.6 719.3C346.9 720.3 354.2 721.6 361.5 722.5C368.7 723.5 376.0 724.5 383.3 725.2C390.6 725.9 399.6 726.4 405.1 726.7C410.6 727.0 410.4 726.8 416.0 727.1C421.6 727.4 431.0 728.1 438.5 728.4C446.1 728.7 453.6 728.6 461.1 728.9C468.6 729.1 476.1 729.8 483.6 730.0C491.2 730.2 500.2 730.3 506.2 730.0C512.2 729.7 517.5 728.7 519.7 728.4" stroke="#eebc64"/><path d="M57.0 726.9C60.5 726.4 70.7 725.3 77.8 723.6C84.9 722.0 94.2 718.5 99.6 717.1C105.1 715.6 105.1 715.3 110.5 714.9C116.0 714.5 125.1 714.8 132.4 714.9C139.6 715.0 148.7 715.4 154.2 715.6C159.6 715.7 161.5 715.9 165.1 716.0C168.7 716.1 170.5 716.4 176.0 716.0C181.5 715.6 190.5 714.5 197.8 713.8C205.1 713.1 212.4 711.8 219.6 711.6C226.9 711.5 234.2 712.0 241.5 712.7C248.7 713.5 256.0 715.3 263.3 716.0C270.6 716.7 279.6 717.0 285.1 717.2C290.6 717.4 290.5 718.0 296.0 717.4C301.5 716.9 310.5 714.8 317.8 713.8C325.1 712.9 332.4 711.8 339.6 711.6C346.9 711.5 354.2 712.4 361.5 712.7C368.7 713.1 376.0 713.4 383.3 713.8C390.6 714.3 399.6 715.3 405.1 715.5C410.6 715.8 410.4 715.9 416.0 715.5C421.6 715.1 431.0 714.1 438.5 713.1C446.1 712.1 453.6 710.8 461.1 709.7C468.6 708.6 476.1 707.3 483.6 706.3C491.2 705.3 499.6 704.3 506.2 703.6C512.8 702.9 520.3 702.5 523.1 702.3" stroke="#9ccaf0"/><path d="M60.4 729.1C61.5 729.3 64.0 729.6 66.9 730.2C69.8 730.7 74.2 731.8 77.8 732.4C81.5 732.9 85.1 733.6 88.7 733.5C92.4 733.3 96.0 732.2 99.6 731.3C103.3 730.4 106.9 728.8 110.5 728.0C114.2 727.2 117.8 726.7 121.5 726.5C125.1 726.3 128.7 726.5 132.4 726.9C136.0 727.3 139.6 728.1 143.3 728.7C146.9 729.2 150.6 729.5 154.2 730.2C157.8 730.8 161.5 732.1 165.1 732.6C168.7 733.0 170.5 732.8 176.0 732.9C181.5 733.0 190.5 733.3 197.8 733.0C205.1 732.8 212.4 731.2 219.6 731.3C226.9 731.4 234.2 732.4 241.5 733.5C248.7 734.6 256.0 737.3 263.3 737.8C270.6 738.3 279.6 736.8 285.1 736.6C290.6 736.3 290.5 736.7 296.0 736.2C301.5 735.7 310.5 734.1 317.8 733.5C325.1 732.8 332.4 732.4 339.6 732.4C346.9 732.4 356.0 733.4 361.5 733.5C366.9 733.6 368.7 733.4 372.4 733.0C376.0 732.7 379.6 732.1 383.3 731.3C386.9 730.4 390.6 729.0 394.2 728.0C397.8 727.1 401.5 726.1 405.1 725.6C408.7 725.1 410.4 725.4 416.0 725.1C421.6 724.8 431.0 724.2 438.5 723.9C446.1 723.6 453.6 724.7 461.1 723.2C468.6 721.8 476.1 717.4 483.6 715.4C491.2 713.3 499.1 712.0 506.2 710.8C513.3 709.7 523.1 709.0 526.5 708.6" stroke="#7890d8" stroke-dasharray="4.5 1.6 1.2 1.6"/><path d="M57.0 739.6C60.5 739.6 70.7 739.3 77.8 739.6C84.9 739.8 94.2 740.5 99.6 741.1C105.1 741.7 106.9 742.7 110.5 743.3C114.2 743.8 116.0 744.2 121.5 744.4C126.9 744.6 137.8 744.6 143.3 744.4C148.7 744.2 150.6 743.9 154.2 743.3C157.8 742.7 161.5 741.3 165.1 740.7C168.7 740.2 170.5 739.9 176.0 740.0C181.5 740.1 190.5 740.7 197.8 741.1C205.1 741.5 212.4 742.0 219.6 742.2C226.9 742.4 234.2 742.0 241.5 742.2C248.7 742.4 256.0 742.5 263.3 743.3C270.6 744.0 279.6 746.1 285.1 746.7C290.6 747.4 290.5 747.1 296.0 747.1C301.5 747.1 310.5 747.2 317.8 746.6C325.1 745.9 332.4 744.4 339.6 743.3C346.9 742.2 354.2 740.2 361.5 740.0C368.7 739.8 377.8 741.5 383.3 742.2C388.7 742.9 390.6 743.9 394.2 744.4C397.8 744.9 401.5 745.1 405.1 745.1C408.7 745.2 410.4 745.1 416.0 744.5C421.6 743.9 431.0 741.9 438.5 741.3C446.1 740.6 453.6 740.6 461.1 740.6C468.6 740.6 476.1 741.2 483.6 741.3C491.2 741.4 499.1 741.7 506.2 741.3C513.3 740.9 523.1 739.4 526.5 739.0" stroke="#7890d8"/><path d="M57.0 749.8C60.5 749.3 70.7 747.5 77.8 746.6C84.9 745.6 94.2 744.9 99.6 744.4C105.1 743.8 106.9 743.8 110.5 743.3C114.2 742.7 116.0 742.0 121.5 741.1C126.9 740.2 136.0 738.4 143.3 737.8C150.6 737.2 159.6 737.5 165.1 737.5C170.6 737.4 170.5 738.3 176.0 737.6C181.5 736.9 192.4 735.1 197.8 733.5C203.3 731.9 205.1 729.6 208.7 728.0C212.4 726.4 214.2 724.9 219.6 723.6C225.1 722.4 234.2 721.0 241.5 720.4C248.7 719.7 256.0 719.7 263.3 719.9C270.6 720.1 279.6 721.2 285.1 721.5C290.6 721.7 290.5 721.8 296.0 721.5C301.5 721.1 310.5 720.0 317.8 719.3C325.1 718.5 332.4 717.8 339.6 717.1C346.9 716.4 354.2 715.5 361.5 714.9C368.7 714.4 376.0 714.0 383.3 713.8C390.6 713.6 399.6 713.8 405.1 713.8C410.6 713.8 410.4 714.1 416.0 713.8C421.6 713.5 431.0 712.8 438.5 712.0C446.1 711.1 453.6 709.6 461.1 708.6C468.6 707.6 476.1 706.6 483.6 705.9C491.2 705.1 499.8 704.6 506.2 704.1C512.6 703.6 519.3 703.1 522.0 702.9" stroke="#9ccaf0"/><path d="M57.0 750.9C60.5 750.3 70.7 748.1 77.8 747.0C84.9 745.9 92.4 745.0 99.6 744.4C106.9 743.8 114.2 743.6 121.5 743.3C128.7 742.9 136.0 742.6 143.3 742.2C150.6 741.8 159.6 741.3 165.1 741.1C170.6 740.9 170.5 741.3 176.0 741.1C181.5 740.9 190.5 740.4 197.8 740.0C205.1 739.6 212.4 739.5 219.6 738.9C226.9 738.4 234.2 737.4 241.5 736.7C248.7 736.1 256.0 735.6 263.3 735.2C270.6 734.8 279.6 734.7 285.1 734.6C290.6 734.4 290.5 734.7 296.0 734.6C301.5 734.4 310.5 733.5 317.8 733.5C325.1 733.5 332.4 734.2 339.6 734.6C346.9 734.9 354.2 735.4 361.5 735.6C368.7 735.9 376.0 735.9 383.3 736.1C390.6 736.3 399.6 736.6 405.1 736.7C410.6 736.9 410.4 736.9 416.0 736.8C421.6 736.6 431.0 736.2 438.5 735.6C446.1 735.1 453.6 734.3 461.1 733.4C468.6 732.4 476.1 731.1 483.6 730.0C491.2 728.9 500.4 727.6 506.2 726.6C512.0 725.6 516.5 724.4 518.6 723.9" stroke="#a0c468"/><path d="M66.9 753.1C68.7 753.2 72.4 753.4 77.8 753.5C83.3 753.7 92.4 754.0 99.6 754.2C106.9 754.4 114.2 754.6 121.5 754.8C128.7 755.1 136.0 755.3 143.3 755.7C150.6 756.1 159.6 756.8 165.1 757.1C170.6 757.4 170.5 757.2 176.0 757.2C181.5 757.3 190.5 757.4 197.8 757.5C205.1 757.5 212.4 757.5 219.6 757.5C226.9 757.4 234.2 757.4 241.5 757.0C248.7 756.7 256.0 756.2 263.3 755.3C270.6 754.4 279.6 752.4 285.1 751.8C290.6 751.1 290.5 751.6 296.0 751.2C301.5 750.9 310.5 750.4 317.8 749.8C325.1 749.2 332.4 748.2 339.6 747.6C346.9 747.1 354.2 746.7 361.5 746.6C368.7 746.4 376.0 747.0 383.3 746.6C390.6 746.1 399.6 744.6 405.1 744.0C410.6 743.5 410.4 744.2 416.0 743.4C421.6 742.6 431.0 740.4 438.5 739.0C446.1 737.7 453.6 736.1 461.1 735.2C468.6 734.3 476.1 734.0 483.6 733.4C491.2 732.8 499.8 732.0 506.2 731.6C512.6 731.1 519.3 730.8 522.0 730.7" stroke="#a0c468"/><path d="M57.0 762.9C58.7 763.3 63.4 764.1 66.9 765.1C70.4 766.1 74.2 767.9 77.8 768.8C81.5 769.7 85.1 770.6 88.7 770.6C92.4 770.5 94.2 769.5 99.6 768.4C105.1 767.3 116.0 764.7 121.5 764.0C126.9 763.3 128.7 763.7 132.4 764.0C136.0 764.3 137.8 765.2 143.3 765.8C148.7 766.3 159.6 767.1 165.1 767.4C170.6 767.7 170.5 768.0 176.0 767.6C181.5 767.2 190.5 765.5 197.8 765.1C205.1 764.7 212.4 764.9 219.6 765.1C226.9 765.3 234.2 766.4 241.5 766.2C248.7 766.0 256.0 765.2 263.3 764.0C270.6 762.8 279.6 760.0 285.1 758.9C290.6 757.8 290.5 757.9 296.0 757.5C301.5 757.0 310.5 756.7 317.8 756.4C325.1 756.0 332.4 755.8 339.6 755.3C346.9 754.7 354.2 753.8 361.5 753.1C368.7 752.4 376.0 751.5 383.3 750.9C390.6 750.3 399.6 749.9 405.1 749.5C410.6 749.2 410.4 749.8 416.0 748.9C421.6 748.0 431.0 744.9 438.5 744.2C446.1 743.5 453.6 744.4 461.1 744.7C468.6 744.9 476.1 745.9 483.6 745.8C491.2 745.7 499.4 744.8 506.2 744.2C513.0 743.6 521.2 742.7 524.2 742.4" stroke="#eebc64"/><path d="M57.0 772.3C58.7 772.2 63.4 772.0 66.9 771.6C70.4 771.3 74.2 770.6 77.8 770.1C81.5 769.6 85.1 769.2 88.7 768.8C92.4 768.4 96.0 768.2 99.6 767.9C103.3 767.7 106.9 767.1 110.5 767.3C114.2 767.4 116.0 768.3 121.5 768.8C126.9 769.4 136.0 770.1 143.3 770.6C150.6 771.0 159.6 771.4 165.1 771.5C170.6 771.6 170.5 771.8 176.0 771.1C181.5 770.4 190.5 767.9 197.8 767.3C205.1 766.6 212.4 767.6 219.6 767.3C226.9 766.9 234.2 766.0 241.5 765.1C248.7 764.2 256.0 763.2 263.3 761.8C270.6 760.5 279.6 757.9 285.1 756.9C290.6 755.9 290.5 756.3 296.0 755.8C301.5 755.4 310.5 754.6 317.8 754.2C325.1 753.7 332.4 753.5 339.6 753.1C346.9 752.7 354.2 752.6 361.5 752.0C368.7 751.5 376.0 750.6 383.3 749.8C390.6 749.0 399.6 747.9 405.1 747.3C410.6 746.8 410.4 747.5 416.0 746.7C421.6 745.9 431.0 742.9 438.5 742.4C446.1 741.9 453.6 743.0 461.1 743.5C468.6 744.1 476.1 745.6 483.6 745.8C491.2 746.0 499.1 745.7 506.2 744.7C513.3 743.6 523.1 740.5 526.5 739.7" stroke="#c65c74" stroke-dasharray="4.5 1.6 1.2 1.6"/><path d="M57.0 781.5C58.7 781.3 63.4 780.9 66.9 780.4C70.4 779.8 74.2 779.5 77.8 778.2C81.5 776.9 85.1 774.3 88.7 772.7C92.4 771.2 96.0 769.6 99.6 768.8C103.3 768.0 106.9 767.9 110.5 767.9C114.2 767.9 117.8 768.4 121.5 768.8C125.1 769.2 128.7 769.8 132.4 770.1C136.0 770.4 139.6 770.5 143.3 770.6C146.9 770.6 150.6 770.8 154.2 770.6C157.8 770.4 161.5 769.6 165.1 769.4C168.7 769.1 170.5 768.9 176.0 769.1C181.5 769.3 190.5 770.5 197.8 770.6C205.1 770.6 212.4 770.0 219.6 769.5C226.9 768.9 234.2 768.0 241.5 767.3C248.7 766.6 256.0 765.6 263.3 765.1C270.6 764.6 279.6 764.2 285.1 764.0C290.6 763.8 290.5 764.7 296.0 764.0C301.5 763.3 310.5 761.1 317.8 759.6C325.1 758.2 332.4 756.9 339.6 755.3C346.9 753.6 354.2 751.3 361.5 749.8C368.7 748.4 376.0 747.1 383.3 746.6C390.6 746.0 399.6 746.3 405.1 746.2C410.6 746.2 410.4 746.8 416.0 746.5C421.6 746.3 431.0 745.2 438.5 744.7C446.1 744.2 453.6 743.3 461.1 743.5C468.6 743.7 476.1 745.4 483.6 745.8C491.2 746.2 498.9 746.0 506.2 745.8C513.5 745.6 524.0 744.9 527.6 744.7" stroke="#d87878"/><path d="M57.0 772.3C60.5 772.0 70.7 771.1 77.8 770.6C84.9 770.0 92.4 769.0 99.6 768.8C106.9 768.6 114.2 769.0 121.5 769.5C128.7 769.9 137.8 771.2 143.3 771.6C148.7 772.1 150.6 772.3 154.2 772.3C157.8 772.3 161.5 771.8 165.1 771.6C168.7 771.5 170.5 772.4 176.0 771.6C181.5 770.9 190.5 768.2 197.8 767.3C205.1 766.4 212.4 766.2 219.6 766.2C226.9 766.2 234.2 767.6 241.5 767.3C248.7 766.9 256.0 765.2 263.3 764.0C270.6 762.8 279.6 761.0 285.1 760.2C290.6 759.4 290.5 759.7 296.0 759.1C301.5 758.5 310.5 757.2 317.8 756.4C325.1 755.6 332.4 754.9 339.6 754.2C346.9 753.5 354.2 752.9 361.5 752.0C368.7 751.1 376.0 749.6 383.3 748.7C390.6 747.8 399.6 746.9 405.1 746.5C410.6 746.2 410.4 746.4 416.0 746.5C421.6 746.6 431.0 746.8 438.5 746.9C446.1 747.1 453.6 747.2 461.1 747.4C468.6 747.6 476.1 748.1 483.6 748.0C491.2 748.0 498.9 747.4 506.2 746.9C513.5 746.4 524.0 745.4 527.6 745.1" stroke="#e8905c"/></g><path d="M56.3 671.70H305.0A137.4 137.4 0 0 1 378.5 692.80H539.4M56.3 783.80H305.0A137.4 137.4 0 0 0 378.5 762.90H539.4" stroke="#2c2626" stroke-width="1.85" fill="none" stroke-linejoin="miter"/></g></svg></body></html>
